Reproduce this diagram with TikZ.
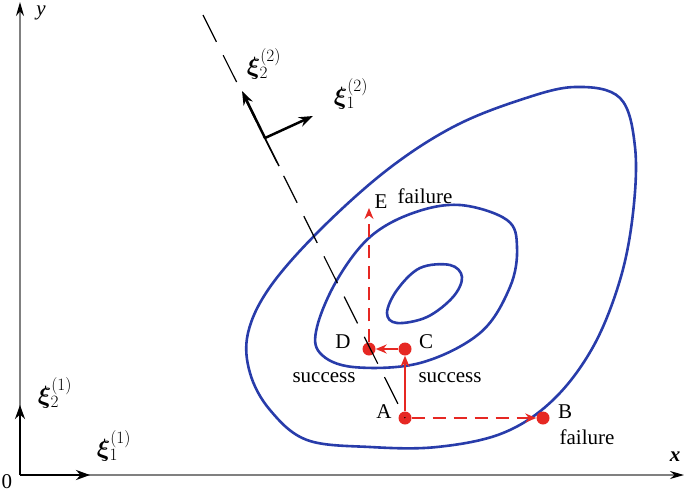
\documentclass[tikz,border=0pt]{standalone}
\usepackage{fontspec}
\setmainfont{Liberation Serif}
\usepackage{bm}
\usetikzlibrary{arrows.meta}
\definecolor{contourblue}{RGB}{40,60,170}
\definecolor{pointred}{RGB}{230,40,35}
\newcommand{\xilabel}[2]{\fontsize{24}{28}\selectfont$\bm{\xi}_{#1}^{(#2)}$}

\begin{document}
\begin{tikzpicture}[x=1pt, y=-1pt, font=\fontsize{21}{25}\selectfont,
    contour/.style={contourblue, line width=2.6pt},
    reddot/.style={circle, fill=pointred, inner sep=0pt, minimum size=13pt},
    stepline/.style={pointred, line width=2pt, -{Stealth[length=11pt,width=9pt]}},
    trialline/.style={stepline, dash pattern=on 13pt off 8pt},
    basisarrow/.style={black, line width=2.5pt, -{Stealth[length=14pt,width=10pt]}},
    axisline/.style={gray, line width=1.4pt, -{Stealth[length=14pt,width=8pt,color=black]}}]

\useasboundingbox (0,0) rectangle (685,495);

% Axes
\coordinate (O) at (20,475);
\draw[axisline] (O) -- (684,475);
\draw[axisline] (O) -- (20,2);
\node at (675,457) {\textbf{\textit{x}}};
\node at (41,13) {\textit{y}};
\node at (7,482) {0};

% First frame
\draw[basisarrow] (O) -- (90,475);
\draw[basisarrow] (O) -- (20,405);
\node at (114,446) {\xilabel{1}{1}};
\node at (55,393) {\xilabel{2}{1}};

% Blue contours
\draw[contour] plot[smooth cycle, tension=0.6] coordinates {
    (620,98) (635,147) (633,213) (620,280) (593,347) (553,400) (503,433)
    (437,447) (370,447) (307,440) (270,410) (250,373) (248,333) (270,287)
    (320,230) (387,170) (453,127) (520,100) (575,87)};
\draw[contour] plot[smooth cycle, tension=0.6] coordinates {
    (460,205) (507,220) (517,247) (510,287) (480,333) (420,363) (353,367)
    (320,353) (317,327) (337,280) (370,237) (413,213)};
\draw[contour] plot[smooth cycle, tension=0.6] coordinates {
    (450,265) (462,277) (453,297) (427,317) (397,323) (387,313) (397,290)
    (420,268)};

% Points
\node[reddot] (A) at (405,418) {};
\node[reddot] (B) at (543,418) {};
\node[reddot] (C) at (405,349) {};
\node[reddot] (D) at (369,349) {};
\coordinate (E) at (369,208);

% Second frame and search direction
\coordinate (P) at (265,138);
\draw[black, line width=1.2pt, dash pattern=on 30pt off 15pt] (203,15) -- (A.center);
\draw[black, line width=1.4pt] (P) -- (279,166);
\draw[basisarrow] (P) -- (242,91);
\draw[basisarrow] (P) -- (313,116);
\node at (264,64) {\xilabel{2}{2}};
\node at (351,94) {\xilabel{1}{2}};

% Moves
\draw[stepline] (A) -- (C);
\draw[stepline] (C) -- (D);
\draw[trialline] (A) -- (B);
\draw[trialline] (D) -- (E);

% Labels
\node at (384,412) {A};
\node at (565,412) {B};
\node at (426,342) {C};
\node at (343,342) {D};
\node at (381,202) {E};
\node at (425,196) {failure};
\node at (587,437) {failure};
\node at (324,378) {success};
\node at (450,378) {success};

\end{tikzpicture}
\end{document}
